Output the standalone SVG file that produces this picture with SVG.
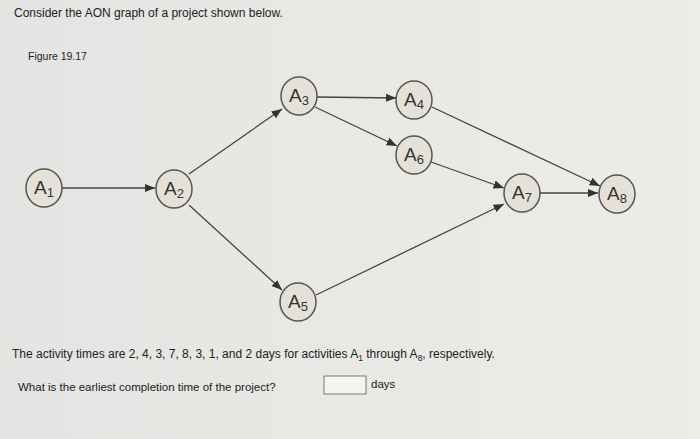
<svg xmlns="http://www.w3.org/2000/svg" width="700" height="439" viewBox="0 0 700 439">
<defs>
<marker id="ah" viewBox="0 0 10 10" refX="10" refY="5" markerWidth="8" markerHeight="8" orient="auto"><path d="M0,1 L10,5 L0,9 z" fill="#333"/></marker>
<linearGradient id="bg" x1="0" x2="1"><stop offset="0" stop-color="#e4e4e2"/><stop offset="1" stop-color="#ecece8"/></linearGradient>
</defs>
<style>
.n ellipse{fill:#e5e1d8;stroke:#555;stroke-width:1.5}
.n text{font-family:"Liberation Sans",Arial,sans-serif;font-size:19px;fill:#333;text-anchor:middle}
.n tspan{font-size:13px}
.e line{stroke:#444;stroke-width:1.3;marker-end:url(#ah)}
.t{font-family:"Liberation Sans",Arial,sans-serif;fill:#222}
</style>
<rect width="700" height="439" fill="url(#bg)"/>
<text class="t" x="14" y="17" font-size="12">Consider the AON graph of a project shown below.</text>
<text class="t" x="28" y="60" font-size="10.5">Figure 19.17</text>
<g class="e">
<line x1="62" y1="188" x2="155" y2="188"/>
<line x1="189" y1="174" x2="282" y2="109"/>
<line x1="189" y1="205" x2="282" y2="290"/>
<line x1="317" y1="97" x2="396" y2="98"/>
<line x1="315" y1="107" x2="397" y2="146"/>
<line x1="432" y1="107" x2="600" y2="186"/>
<line x1="431" y1="162" x2="504" y2="188"/>
<line x1="316" y1="295" x2="504" y2="204"/>
<line x1="540" y1="193" x2="598" y2="193"/>
</g>
<g class="n" id="A1"><ellipse cx="44" cy="188" rx="18" ry="19"/><text x="44" y="194">A<tspan dy="3">1</tspan></text></g>
<g class="n" id="A2"><ellipse cx="174" cy="189" rx="18" ry="19"/><text x="174" y="195">A<tspan dy="3">2</tspan></text></g>
<g class="n" id="A3"><ellipse cx="299" cy="96" rx="18" ry="19"/><text x="299" y="102">A<tspan dy="3">3</tspan></text></g>
<g class="n" id="A4"><ellipse cx="414" cy="100" rx="18" ry="19"/><text x="414" y="106">A<tspan dy="3">4</tspan></text></g>
<g class="n" id="A6"><ellipse cx="414" cy="155" rx="18" ry="19"/><text x="414" y="161">A<tspan dy="3">6</tspan></text></g>
<g class="n" id="A7"><ellipse cx="522" cy="193" rx="18" ry="19"/><text x="522" y="199">A<tspan dy="3">7</tspan></text></g>
<g class="n" id="A8"><ellipse cx="617" cy="194" rx="18" ry="19"/><text x="617" y="200">A<tspan dy="3">8</tspan></text></g>
<g class="n" id="A5"><ellipse cx="298" cy="302" rx="18" ry="19"/><text x="298" y="308">A<tspan dy="3">5</tspan></text></g>
<text class="t" x="12" y="358" font-size="12">The activity times are 2, 4, 3, 7, 8, 3, 1, and 2 days for activities A<tspan font-size="8.5" dy="3">1</tspan><tspan dy="-3"> through A</tspan><tspan font-size="8.5" dy="3">8</tspan><tspan dy="-3">, respectively.</tspan></text>
<text class="t" x="18" y="391" font-size="11.5">What is the earliest completion time of the project?</text>
<rect x="324" y="376" width="42" height="18" fill="#f4f4f2" stroke="#777"/>
<text class="t" x="371" y="388" font-size="11.5">days</text>
</svg>
